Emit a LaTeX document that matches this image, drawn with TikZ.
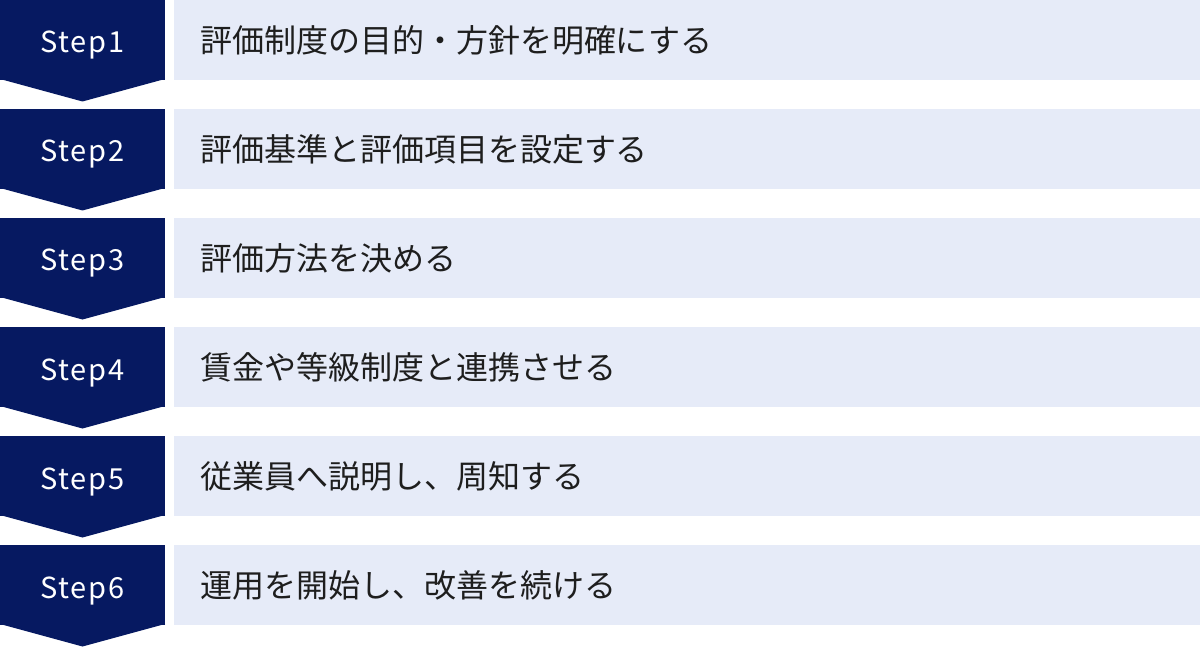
\documentclass[tikz,border=0pt]{standalone}
\usepackage{fontspec}
\setmainfont{Noto Sans CJK JP}
\newfontfamily\stepfont[LetterSpace=6]{Noto Sans CJK JP}
\usetikzlibrary{positioning}
\definecolor{stepnavy}{HTML}{061961}
\definecolor{rowblue}{HTML}{E6EBF8}
\definecolor{rowtext}{HTML}{1E1E1E}

\begin{document}
\begin{tikzpicture}[x=1pt,y=1pt,
      stepbox/.style={
         rectangle,
         fill=stepnavy,
         minimum width=165pt,
         minimum height=80pt,
         inner sep=0pt,
         outer sep=0pt,
         text height=36pt,
         text depth=10pt,
         text=white,
         font=\stepfont\fontsize{29}{29}\selectfont
      },
      rowbox/.style={
         rectangle,
         fill=rowblue,
         text width=974pt,
         minimum height=80pt,
         inner xsep=26pt,
         inner ysep=0pt,
         outer sep=0pt,
         align=left,
         text=rowtext,
         font=\fontsize{32}{32}\selectfont
      },
      tipfill/.style={fill=stepnavy}
    ]
    \useasboundingbox (0,0) rectangle (1200,-647);
    % step markers
    \node (s1) [stepbox, anchor=north west] at (0,0) {Step1};
    \node (s2) [stepbox, below=29pt of s1] {Step2};
    \node (s3) [stepbox, below=29pt of s2] {Step3};
    \node (s4) [stepbox, below=29pt of s3] {Step4};
    \node (s5) [stepbox, below=29pt of s4] {Step5};
    \node (s6) [stepbox, below=29pt of s5] {Step6};
    % tips
    \fill[tipfill] ([yshift=1pt]s1.south west) -- ([yshift=1pt]s1.south east) -- ([yshift=-21.5pt]s1.south) -- cycle;
    \fill[tipfill] ([yshift=1pt]s2.south west) -- ([yshift=1pt]s2.south east) -- ([yshift=-21.5pt]s2.south) -- cycle;
    \fill[tipfill] ([yshift=1pt]s3.south west) -- ([yshift=1pt]s3.south east) -- ([yshift=-21.5pt]s3.south) -- cycle;
    \fill[tipfill] ([yshift=1pt]s4.south west) -- ([yshift=1pt]s4.south east) -- ([yshift=-21.5pt]s4.south) -- cycle;
    \fill[tipfill] ([yshift=1pt]s5.south west) -- ([yshift=1pt]s5.south east) -- ([yshift=-21.5pt]s5.south) -- cycle;
    \fill[tipfill] ([yshift=1pt]s6.south west) -- ([yshift=1pt]s6.south east) -- ([yshift=-21.5pt]s6.south) -- cycle;
    % row bars
    \node (r1) [rowbox, right=9pt of s1] {評価制度の目的・方針を明確にする};
    \node (r2) [rowbox, right=9pt of s2] {評価基準と評価項目を設定する};
    \node (r3) [rowbox, right=9pt of s3] {評価方法を決める};
    \node (r4) [rowbox, right=9pt of s4] {賃金や等級制度と連携させる};
    \node (r5) [rowbox, right=9pt of s5] {従業員へ説明し、周知する};
    \node (r6) [rowbox, right=9pt of s6] {運用を開始し、改善を続ける};
\end{tikzpicture}
\end{document}
